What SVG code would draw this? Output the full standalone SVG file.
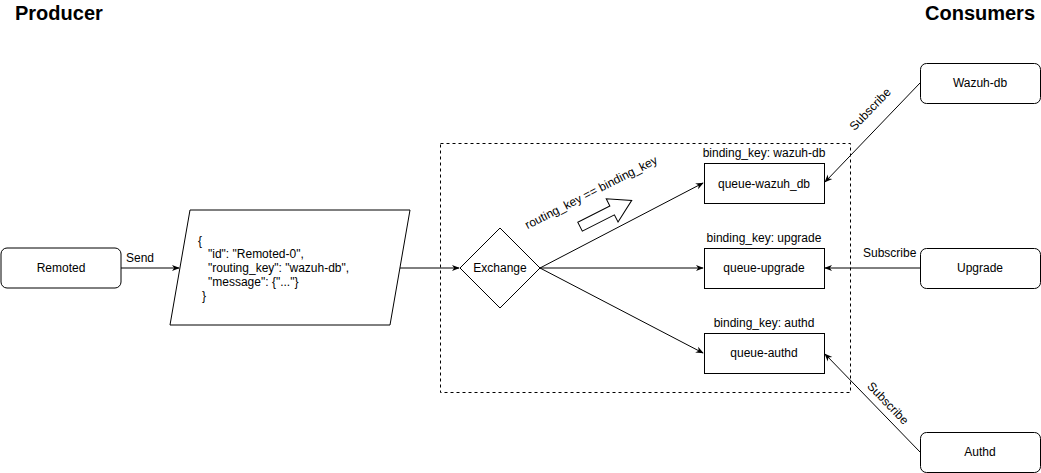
<svg xmlns="http://www.w3.org/2000/svg" width="1041" height="473" viewBox="0 0 1041 473">
<style>
text{font-family:"Liberation Sans",Arial,sans-serif;font-size:12px;fill:#000}
.n{fill:#fff;stroke:#000;stroke-width:1}
.e{fill:none;stroke:#000;stroke-width:1}
.t{font-size:20px;font-weight:bold}
</style>
<defs><marker id="a" viewBox="0 0 10 10" refX="9" refY="5" markerWidth="8" markerHeight="8" orient="auto" markerUnits="userSpaceOnUse"><path d="M0,1 L10,5 L0,9 L3,5 Z" fill="#000"/></marker></defs>
<rect width="1041" height="473" fill="#fff"/>
<text class="t" x="15" y="20">Producer</text>
<text class="t" x="925" y="20">Consumers</text>
<g id="container"><rect x="440.5" y="143.5" width="410" height="249" fill="none" stroke="#000" stroke-dasharray="3,3"/></g>
<g id="connectors">
<path class="e" d="M121,268 H179" marker-end="url(#a)"/>
<text x="126" y="262">Send</text>
<path class="e" d="M400,268 H459" marker-end="url(#a)"/>
<path class="e" d="M540,268 L703,183" marker-end="url(#a)"/>
<path class="e" d="M540,268 H703" marker-end="url(#a)"/>
<path class="e" d="M540,268 L703,353" marker-end="url(#a)"/>
<path class="e" d="M920,83 L825,182" marker-end="url(#a)"/>
<path class="e" d="M920,268 H825" marker-end="url(#a)"/>
<path class="e" d="M920,452 L825,354" marker-end="url(#a)"/>
<text x="863" y="257">Subscribe</text>
<text transform="translate(873,112) rotate(-46)" text-anchor="middle">Subscribe</text>
<text transform="translate(885,406) rotate(46)" text-anchor="middle">Subscribe</text>
<text transform="translate(593,196) rotate(-27)" text-anchor="middle">routing_key == binding_key</text>
<polygon class="n" transform="translate(605,214) rotate(-27)" points="-28,-5 8,-5 8,-13 30,0 8,13 8,5 -28,5"/>
</g>
<g id="remoted"><rect class="n" x="1" y="248" width="120" height="40" rx="6"/><text x="61" y="272" text-anchor="middle">Remoted</text></g>
<g id="message"><polygon class="n" points="190,210 410,210 390,325 170,325"/>
<text x="198" y="245">{</text>
<text x="208" y="258">"id": "Remoted-0",</text>
<text x="208" y="272">"routing_key": "wazuh-db",</text>
<text x="208" y="286">"message": {"..."}</text>
<text x="202" y="300">}</text></g>
<g id="exchange"><polygon class="n" points="500,228 540,268 500,308 460,268"/><text x="500" y="272" text-anchor="middle">Exchange</text></g>
<g id="q1"><rect class="n" x="704.5" y="163.5" width="120" height="40"/><text x="764" y="188" text-anchor="middle">queue-wazuh_db</text><text x="764" y="157" text-anchor="middle">binding_key: wazuh-db</text></g>
<g id="q2"><rect class="n" x="704.5" y="248.5" width="120" height="40"/><text x="764" y="272" text-anchor="middle">queue-upgrade</text><text x="764" y="242" text-anchor="middle">binding_key: upgrade</text></g>
<g id="q3"><rect class="n" x="704.5" y="333.5" width="120" height="40"/><text x="764" y="357" text-anchor="middle">queue-authd</text><text x="764" y="327" text-anchor="middle">binding_key: authd</text></g>
<g id="wazuhdb"><rect class="n" x="920.5" y="63.5" width="120" height="40" rx="6"/><text x="980" y="87" text-anchor="middle">Wazuh-db</text></g>
<g id="upgrade"><rect class="n" x="920.5" y="248.5" width="120" height="40" rx="6"/><text x="980" y="272" text-anchor="middle">Upgrade</text></g>
<g id="authd"><rect class="n" x="920.5" y="432.5" width="120" height="40" rx="6"/><text x="980" y="456" text-anchor="middle">Authd</text></g>
</svg>
